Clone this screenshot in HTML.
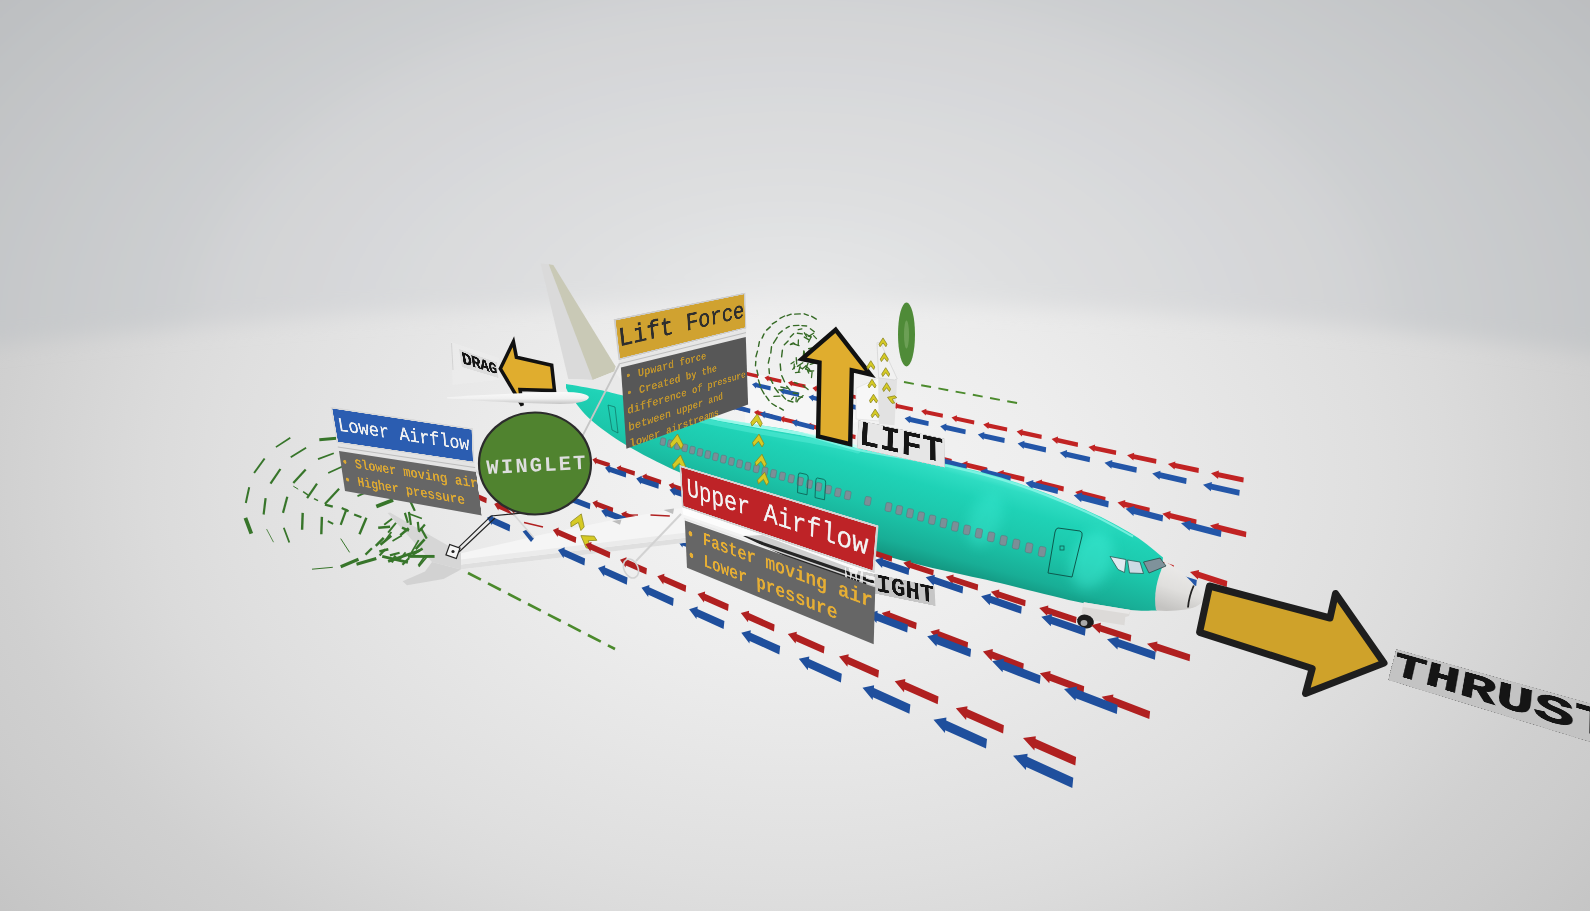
<!DOCTYPE html>
<html><head><meta charset="utf-8"><title>Airflow</title>
<style>
html,body{margin:0;padding:0;background:#dcdcdc}
#s{position:relative;width:1590px;height:911px;overflow:hidden}
.L{position:absolute;left:0;top:0}
.p{position:absolute;left:0;top:0;transform-origin:0 0;box-sizing:border-box;white-space:nowrap;font-family:"Liberation Mono",monospace;text-align:center}
.title{display:block;font-weight:normal;transform:scaleY(1.14);transform-origin:50% 52%}
.big{display:block;font-weight:bold}
.body{font-weight:bold;text-align:left;transform:scaleY(1.16);transform-origin:0 0}
</style></head><body><div id="s">
<svg class="L" width="1590" height="911" viewBox="0 0 1590 911"><defs>
<radialGradient id="bg" gradientUnits="userSpaceOnUse" cx="800" cy="480" r="1300" gradientTransform="translate(800 480) scale(1 0.692) translate(-800 -480)">
<stop offset="0" stop-color="#f4f4f4"/><stop offset="0.1" stop-color="#f1f1f1"/><stop offset="0.2" stop-color="#ededed"/><stop offset="0.27" stop-color="#e9e9e9"/><stop offset="0.444" stop-color="#dfdfdf"/><stop offset="0.5" stop-color="#dbdbdb"/><stop offset="0.62" stop-color="#d0d0d0"/><stop offset="0.685" stop-color="#cccccc"/><stop offset="0.777" stop-color="#c5c5c5"/><stop offset="1" stop-color="#b9b9b9"/></radialGradient>
<radialGradient id="sky" gradientUnits="userSpaceOnUse" cx="790" cy="335" r="1040" gradientTransform="translate(790 335) scale(1 0.5865) translate(-790 -335)">
<stop offset="0" stop-color="#eeeeef"/><stop offset="0.124" stop-color="#e3e4e5"/><stop offset="0.212" stop-color="#dfe0e1"/><stop offset="0.4" stop-color="#d8d9db"/><stop offset="0.549" stop-color="#d2d3d5"/><stop offset="0.596" stop-color="#cdcfd1"/><stop offset="0.75" stop-color="#c6c8ca"/><stop offset="0.93" stop-color="#bdbfc1"/><stop offset="1" stop-color="#babcbe"/></radialGradient>
<filter id="blur20" x="-10%" y="-10%" width="120%" height="130%"><feGaussianBlur stdDeviation="10"/></filter>
</defs>
<rect width="1590" height="911" fill="url(#bg)"/>
<path d="M-100,-100 L1690,-100 L1690,368  C1670.0,365.0 1635.0,357.7 1570.0,350.0 C1505.0,342.3 1395.0,329.4 1300.0,322.0 C1205.0,314.6 1086.7,308.9 1000.0,305.5 C913.3,302.1 880.0,300.4 780.0,301.5 C680.0,302.6 513.3,306.4 400.0,312.0 C286.7,317.6 183.3,327.7 100.0,335.0 C16.7,342.3 -66.7,352.5 -100.0,356.0 Z" fill="url(#sky)" filter="url(#blur20)"/>
</svg>
<svg class="L" width="1590" height="911" viewBox="0 0 1590 911"><polygon points="745.0,372.0 815.0,385.0 862.0,396.0 862.0,420.0 815.0,437.0 745.0,422.0" fill="#f6f6f6" />
<polygon points="1211.0,473.2 1218.9,470.6 1218.7,472.3 1243.8,477.6 1243.3,482.6 1218.2,477.2 1218.1,478.9" fill="#c12323" />
<polygon points="1167.9,463.9 1175.4,461.4 1175.2,463.0 1198.9,468.1 1198.5,472.9 1174.8,467.9 1174.6,469.5" fill="#c12323" />
<polygon points="1127.1,455.2 1134.2,452.7 1134.0,454.3 1156.5,459.1 1156.0,463.8 1133.6,459.0 1133.4,460.6" fill="#c12323" />
<polygon points="1088.4,446.9 1095.1,444.5 1095.0,446.0 1116.3,450.5 1115.8,455.1 1094.5,450.6 1094.4,452.1" fill="#c12323" />
<polygon points="1051.6,439.0 1058.0,436.6 1057.9,438.1 1078.1,442.4 1077.7,446.9 1057.4,442.6 1057.3,444.1" fill="#c12323" />
<polygon points="1016.6,431.5 1022.7,429.1 1022.6,430.6 1041.8,434.7 1041.4,439.1 1022.1,435.0 1022.0,436.4" fill="#c12323" />
<polygon points="983.2,424.4 989.1,422.0 988.9,423.5 1007.3,427.4 1006.9,431.6 988.5,427.7 988.4,429.1" fill="#c12323" />
<polygon points="951.5,417.6 957.0,415.3 956.9,416.7 974.4,420.4 974.0,424.6 956.5,420.8 956.3,422.2" fill="#c12323" />
<polygon points="921.1,411.1 926.4,408.8 926.3,410.2 943.0,413.7 942.6,417.8 925.9,414.2 925.8,415.6" fill="#c12323" />
<polygon points="892.1,404.9 897.2,402.6 897.1,403.9 913.1,407.4 912.7,411.3 896.7,407.9 896.6,409.2" fill="#c12323" />
<polygon points="864.4,399.0 869.3,396.7 869.1,398.0 884.4,401.3 884.0,405.2 868.8,401.9 868.6,403.2" fill="#c12323" />
<polygon points="837.8,393.3 842.5,391.1 842.4,392.3 857.0,395.5 856.6,399.3 842.0,396.1 841.9,397.4" fill="#c12323" />
<polygon points="812.4,387.9 816.9,385.6 816.7,386.9 830.8,389.9 830.4,393.6 816.4,390.6 816.3,391.9" fill="#c12323" />
<polygon points="788.0,382.6 792.3,380.4 792.2,381.7 805.6,384.5 805.3,388.2 791.8,385.3 791.7,386.5" fill="#c12323" />
<polygon points="764.5,377.6 768.7,375.5 768.6,376.6 781.5,379.4 781.1,383.0 768.2,380.2 768.1,381.4" fill="#c12323" />
<polygon points="742.0,372.8 746.0,370.7 745.9,371.8 758.3,374.5 757.9,378.0 745.5,375.3 745.4,376.5" fill="#c12323" />
<polygon points="1203.0,484.8 1211.9,482.0 1211.7,483.7 1239.8,490.0 1239.2,495.8 1211.1,489.6 1210.9,491.3" fill="#2356a8" />
<polygon points="1152.2,473.4 1160.5,470.7 1160.3,472.3 1186.7,478.2 1186.1,483.9 1159.8,478.0 1159.6,479.7" fill="#2356a8" />
<polygon points="1104.5,462.8 1112.3,460.1 1112.2,461.7 1136.9,467.2 1136.3,472.7 1111.6,467.2 1111.5,468.8" fill="#2356a8" />
<polygon points="1059.7,452.8 1067.1,450.1 1066.9,451.7 1090.2,456.9 1089.6,462.2 1066.4,457.0 1066.2,458.6" fill="#2356a8" />
<polygon points="1017.6,443.4 1024.5,440.8 1024.3,442.3 1046.2,447.2 1045.7,452.4 1023.8,447.5 1023.7,449.0" fill="#2356a8" />
<polygon points="977.8,434.6 984.3,431.9 984.2,433.4 1004.8,438.0 1004.3,443.1 983.7,438.5 983.5,439.9" fill="#2356a8" />
<polygon points="940.2,426.2 946.4,423.6 946.3,425.0 965.8,429.4 965.3,434.3 945.8,429.9 945.6,431.4" fill="#2356a8" />
<polygon points="904.6,418.2 910.5,415.7 910.4,417.1 928.8,421.2 928.3,426.0 909.9,421.9 909.7,423.3" fill="#2356a8" />
<polygon points="870.9,410.7 876.5,408.2 876.4,409.6 893.9,413.5 893.4,418.1 875.9,414.2 875.8,415.6" fill="#2356a8" />
<polygon points="838.9,403.6 844.2,401.1 844.1,402.4 860.7,406.1 860.2,410.7 843.6,407.0 843.5,408.3" fill="#2356a8" />
<polygon points="808.5,396.8 813.6,394.4 813.4,395.7 829.2,399.2 828.8,403.6 813.0,400.1 812.9,401.4" fill="#2356a8" />
<polygon points="779.6,390.4 784.4,388.0 784.3,389.2 799.3,392.6 798.9,396.9 783.8,393.5 783.7,394.8" fill="#2356a8" />
<polygon points="752.0,384.2 756.6,381.9 756.5,383.1 770.8,386.3 770.4,390.5 756.1,387.3 755.9,388.5" fill="#2356a8" />
<polygon points="1210.0,525.5 1218.8,523.0 1218.6,524.8 1246.4,531.8 1245.9,537.3 1218.0,530.4 1217.9,532.2" fill="#c12323" />
<polygon points="1162.3,513.7 1170.6,511.1 1170.4,512.9 1196.6,519.4 1196.1,524.8 1169.9,518.3 1169.7,520.1" fill="#c12323" />
<polygon points="1117.5,502.5 1125.3,499.9 1125.1,501.7 1149.8,507.8 1149.3,513.1 1124.6,506.9 1124.4,508.7" fill="#c12323" />
<polygon points="1075.1,491.9 1082.5,489.4 1082.3,491.1 1105.6,496.9 1105.1,502.0 1081.8,496.2 1081.6,497.9" fill="#c12323" />
<polygon points="1035.1,482.0 1042.1,479.5 1041.9,481.1 1063.9,486.6 1063.4,491.6 1041.4,486.1 1041.2,487.7" fill="#c12323" />
<polygon points="997.2,472.5 1003.8,470.0 1003.6,471.7 1024.5,476.8 1024.0,481.7 1003.2,476.5 1003.0,478.1" fill="#c12323" />
<polygon points="961.3,463.6 967.5,461.1 967.4,462.7 987.2,467.6 986.7,472.3 966.9,467.4 966.8,468.9" fill="#c12323" />
<polygon points="927.1,455.1 933.1,452.6 933.0,454.2 951.8,458.9 951.3,463.4 932.5,458.8 932.4,460.3" fill="#c12323" />
<polygon points="894.7,447.0 900.4,444.6 900.3,446.1 918.1,450.5 917.7,455.0 899.8,450.5 899.7,452.0" fill="#c12323" />
<polygon points="863.9,439.3 869.3,436.9 869.2,438.4 886.1,442.6 885.7,447.0 868.7,442.7 868.6,444.2" fill="#c12323" />
<polygon points="834.5,432.0 839.7,429.6 839.5,431.1 855.7,435.1 855.3,439.3 839.1,435.3 838.9,436.7" fill="#c12323" />
<polygon points="806.4,425.0 811.4,422.7 811.2,424.1 826.7,427.9 826.3,432.1 810.8,428.2 810.7,429.6" fill="#c12323" />
<polygon points="779.6,418.3 784.4,416.0 784.2,417.4 799.0,421.1 798.6,425.1 783.8,421.4 783.7,422.8" fill="#c12323" />
<polygon points="754.0,411.9 758.6,409.7 758.4,411.0 772.5,414.5 772.1,418.5 758.0,415.0 757.9,416.3" fill="#c12323" />
<polygon points="729.5,405.8 733.9,403.6 733.7,404.9 747.2,408.3 746.8,412.1 733.3,408.8 733.2,410.1" fill="#c12323" />
<polygon points="1181.0,523.2 1190.8,520.5 1190.6,522.4 1221.5,530.4 1220.8,536.9 1189.9,528.9 1189.7,530.8" fill="#2356a8" />
<polygon points="1125.5,508.7 1134.5,506.0 1134.4,507.8 1163.1,515.3 1162.5,521.6 1133.7,514.1 1133.5,516.0" fill="#2356a8" />
<polygon points="1073.7,495.3 1082.2,492.5 1082.0,494.3 1108.8,501.3 1108.2,507.4 1081.4,500.4 1081.2,502.2" fill="#2356a8" />
<polygon points="1025.4,482.7 1033.4,480.0 1033.2,481.7 1058.2,488.2 1057.6,494.1 1032.6,487.6 1032.4,489.3" fill="#2356a8" />
<polygon points="980.2,470.9 987.6,468.2 987.5,469.9 1010.9,476.0 1010.3,481.7 986.9,475.6 986.7,477.2" fill="#2356a8" />
<polygon points="937.8,459.9 944.8,457.2 944.6,458.8 966.6,464.5 966.1,470.1 944.1,464.3 943.9,465.9" fill="#2356a8" />
<polygon points="897.9,449.5 904.5,446.9 904.4,448.4 925.0,453.8 924.5,459.1 903.9,453.8 903.7,455.3" fill="#2356a8" />
<polygon points="860.4,439.7 866.7,437.1 866.5,438.6 886.0,443.7 885.4,448.9 866.0,443.8 865.8,445.3" fill="#2356a8" />
<polygon points="825.0,430.5 830.9,427.9 830.8,429.4 849.1,434.2 848.6,439.2 830.3,434.4 830.1,435.9" fill="#2356a8" />
<polygon points="791.6,421.8 797.2,419.3 797.0,420.7 814.4,425.2 813.9,430.1 796.5,425.6 796.4,427.0" fill="#2356a8" />
<polygon points="760.0,413.5 765.3,411.1 765.1,412.4 781.5,416.7 781.1,421.5 764.6,417.2 764.5,418.6" fill="#2356a8" />
<polygon points="730.0,405.7 735.0,403.3 734.9,404.6 750.4,408.7 750.0,413.3 734.4,409.3 734.3,410.6" fill="#2356a8" />
<polygon points="1190.0,572.0 1199.0,569.9 1198.8,571.8 1227.3,581.0 1226.7,587.0 1198.2,577.8 1198.0,579.6" fill="#c12323" />
<polygon points="1138.0,557.0 1146.6,554.9 1146.5,556.7 1173.8,565.3 1173.2,571.1 1145.9,562.4 1145.7,564.2" fill="#c12323" />
<polygon points="1158.0,571.0 1167.4,568.7 1167.2,570.7 1196.8,579.9 1196.2,586.1 1166.5,576.9 1166.4,578.8" fill="#2356a8" />
<line x1="904" y1="382" x2="1019" y2="403.4" stroke="#4b8a2c" stroke-width="1.9" stroke-dasharray="10 7.5"/>
<g stroke="#356a25" stroke-width="1.4" stroke-linecap="round"><line x1="783.4" y1="410.1" x2="779.7" y2="407.9"/><line x1="776.3" y1="406.3" x2="771.8" y2="403.5"/><line x1="769.0" y1="400.5" x2="765.9" y2="396.2"/><line x1="764.1" y1="393.9" x2="761.1" y2="388.5"/><line x1="760.2" y1="385.8" x2="758.4" y2="379.9"/><line x1="758.0" y1="375.2" x2="757.0" y2="370.3"/><line x1="755.5" y1="365.7" x2="755.8" y2="361.4"/><line x1="755.9" y1="356.7" x2="757.5" y2="351.1"/><line x1="758.5" y1="346.4" x2="759.4" y2="341.7"/><line x1="762.1" y1="338.1" x2="764.0" y2="333.9"/><line x1="766.6" y1="330.1" x2="770.3" y2="326.9"/><line x1="772.3" y1="323.9" x2="776.5" y2="321.4"/><line x1="780.0" y1="318.4" x2="784.6" y2="316.0"/><line x1="787.2" y1="315.7" x2="791.2" y2="314.2"/><line x1="794.7" y1="314.1" x2="800.3" y2="313.9"/><line x1="804.2" y1="313.8" x2="808.3" y2="315.3"/><line x1="811.7" y1="316.3" x2="816.3" y2="319.1"/></g>
<g stroke="#356a25" stroke-width="1.4" stroke-linecap="round"><line x1="792.9" y1="402.0" x2="787.9" y2="400.5"/><line x1="785.5" y1="399.1" x2="781.9" y2="395.0"/><line x1="778.3" y1="392.5" x2="774.6" y2="387.8"/><line x1="772.8" y1="383.3" x2="770.5" y2="379.0"/><line x1="769.4" y1="373.5" x2="769.0" y2="368.7"/><line x1="768.3" y1="363.1" x2="769.5" y2="357.8"/><line x1="770.8" y1="353.0" x2="771.5" y2="346.8"/><line x1="773.5" y1="343.2" x2="777.2" y2="337.3"/><line x1="778.5" y1="334.0" x2="782.3" y2="330.9"/><line x1="786.1" y1="328.2" x2="789.3" y2="326.4"/><line x1="793.5" y1="325.6" x2="798.9" y2="325.4"/><line x1="801.9" y1="325.6" x2="806.6" y2="326.0"/><line x1="810.4" y1="328.8" x2="814.3" y2="331.7"/></g>
<g stroke="#356a25" stroke-width="1.4" stroke-linecap="round"><line x1="797.8" y1="393.5" x2="793.2" y2="393.0"/><line x1="790.0" y1="390.1" x2="786.7" y2="386.3"/><line x1="784.5" y1="381.8" x2="781.8" y2="375.7"/><line x1="780.8" y1="370.4" x2="780.2" y2="363.9"/><line x1="781.6" y1="356.8" x2="782.4" y2="350.2"/><line x1="784.3" y1="344.7" x2="788.1" y2="340.9"/><line x1="790.3" y1="336.9" x2="793.6" y2="333.8"/><line x1="797.4" y1="333.3" x2="802.3" y2="333.9"/><line x1="804.3" y1="337.1" x2="808.6" y2="339.7"/></g>
<g stroke="#356a25" stroke-width="1.3" stroke-linecap="round"><line x1="803.8" y1="350.9" x2="803.2" y2="357.3"/><line x1="813.6" y1="335.6" x2="816.5" y2="338.6"/><line x1="812.1" y1="371.8" x2="811.5" y2="377.5"/><line x1="802.8" y1="362.8" x2="797.4" y2="366.4"/><line x1="813.6" y1="333.3" x2="808.8" y2="336.4"/><line x1="807.5" y1="370.5" x2="808.7" y2="373.1"/><line x1="813.3" y1="354.4" x2="817.0" y2="358.3"/><line x1="815.0" y1="347.3" x2="808.6" y2="348.6"/><line x1="814.1" y1="347.6" x2="816.9" y2="349.9"/><line x1="808.1" y1="363.1" x2="805.7" y2="368.9"/><line x1="811.2" y1="336.8" x2="808.5" y2="342.0"/><line x1="815.8" y1="362.7" x2="810.3" y2="364.3"/><line x1="806.0" y1="334.0" x2="810.9" y2="337.1"/><line x1="799.8" y1="372.2" x2="795.5" y2="372.6"/><line x1="794.9" y1="366.7" x2="792.7" y2="369.3"/><line x1="809.8" y1="359.2" x2="804.2" y2="361.0"/><line x1="813.7" y1="370.8" x2="808.5" y2="371.1"/><line x1="799.9" y1="367.6" x2="802.5" y2="368.7"/><line x1="817.1" y1="348.2" x2="816.6" y2="354.5"/><line x1="794.0" y1="361.8" x2="791.0" y2="363.7"/><line x1="805.9" y1="366.1" x2="809.6" y2="369.5"/><line x1="805.5" y1="368.8" x2="811.2" y2="371.3"/><line x1="800.2" y1="366.0" x2="798.6" y2="372.0"/><line x1="794.2" y1="363.9" x2="794.2" y2="368.7"/><line x1="804.1" y1="351.5" x2="804.8" y2="354.9"/><line x1="818.5" y1="352.6" x2="822.4" y2="354.9"/><line x1="804.4" y1="332.8" x2="806.8" y2="336.9"/><line x1="794.3" y1="344.1" x2="799.0" y2="345.7"/><line x1="806.1" y1="365.7" x2="802.5" y2="368.8"/><line x1="794.7" y1="343.4" x2="790.4" y2="344.6"/><line x1="798.4" y1="340.0" x2="798.2" y2="345.4"/><line x1="796.2" y1="357.6" x2="796.7" y2="364.0"/><line x1="801.9" y1="328.9" x2="798.2" y2="329.6"/><line x1="793.3" y1="342.8" x2="790.5" y2="344.4"/></g>
<g stroke="#356a25" stroke-width="1.3" stroke-linecap="round"><line x1="798.6" y1="396.6" x2="802.2" y2="397.4"/><line x1="803.2" y1="395.6" x2="798.4" y2="399.5"/><line x1="798.6" y1="399.0" x2="797.0" y2="401.9"/><line x1="803.1" y1="385.4" x2="808.1" y2="389.5"/><line x1="779.9" y1="396.2" x2="774.0" y2="396.4"/><line x1="796.2" y1="397.6" x2="796.0" y2="401.6"/><line x1="793.4" y1="397.3" x2="791.6" y2="399.5"/><line x1="778.7" y1="389.8" x2="782.8" y2="390.0"/><line x1="780.8" y1="387.0" x2="787.2" y2="388.3"/><line x1="794.2" y1="382.4" x2="797.8" y2="383.6"/></g>
<polygon points="856.0,388.3 878.7,377.8 879.0,421.0 856.0,419.0" fill="#f7f7f7" stroke="#e2e2e2" stroke-width="0.8"/>
<polygon points="878.7,377.8 897.2,378.7 894.5,425.2 879.0,424.0" fill="#e2e2e2" />
<polygon points="877.0,342.7 880.5,342.7 897.2,378.7 894.5,380.0 878.7,377.8" fill="#f1f1f1" stroke="#d6d6d6" stroke-width="0.8"/>
<ellipse cx="906.5" cy="334.5" rx="8.5" ry="32" fill="#4f8b38"/><ellipse cx="906.5" cy="334.5" rx="2.5" ry="14" fill="#79a862" opacity="0.7"/></svg>
<svg class="L" width="1590" height="911" viewBox="0 0 1590 911"><defs>
<linearGradient id="fus" gradientUnits="userSpaceOnUse" x1="905" y1="452" x2="877" y2="553">
<stop offset="0" stop-color="#4fe8d2"/><stop offset="0.08" stop-color="#2edcc2"/><stop offset="0.25" stop-color="#1fd2b6"/><stop offset="0.55" stop-color="#1cc6aa"/><stop offset="0.85" stop-color="#18ae96"/><stop offset="1" stop-color="#139680"/></linearGradient>
<filter id="b6" x="-50%" y="-50%" width="200%" height="200%"><feGaussianBlur stdDeviation="6"/></filter>
<linearGradient id="nose" gradientUnits="userSpaceOnUse" x1="1185" y1="565" x2="1170" y2="610">
<stop offset="0" stop-color="#ecebea"/><stop offset="0.55" stop-color="#e0dfdd"/><stop offset="1" stop-color="#c4c3c1"/></linearGradient>
<linearGradient id="wing" gradientUnits="userSpaceOnUse" x1="560" y1="525" x2="570" y2="562">
<stop offset="0" stop-color="#f8f8f8"/><stop offset="0.6" stop-color="#f0f0f0"/><stop offset="1" stop-color="#c9c9c9"/></linearGradient>
</defs>
<polygon points="540.6,263.4 548.7,264.3 594.0,380.0 568.3,379.0" fill="#dadada" />
<polygon points="548.7,264.3 553.3,265.0 615.6,366.4 614.2,371.4 592.8,380.0" fill="#c9c9b6" />
<polygon points="592.8,380.0 614.2,371.4 622.0,381.0 622.0,396.0 600.0,391.0 572.0,385.0 568.3,379.0" fill="#e9e9e9" />
<polygon points="552.0,383.0 568.0,381.0 572.0,388.0 556.0,389.0" fill="#ececec" />
<path d="M566.0,384.0 C571.7,385.0 590.8,388.2 600.0,390.0 C609.2,391.8 601.3,390.3 621.0,395.0 C640.7,399.7 688.2,411.8 718.0,418.0 C747.8,424.2 776.3,426.9 800.0,432.0 C823.7,437.1 835.2,443.1 860.0,448.5 C884.8,453.9 922.7,458.9 949.0,464.6 C975.3,470.4 994.9,475.3 1018.0,483.0 C1041.1,490.7 1068.2,502.0 1087.5,510.7 C1106.8,519.4 1121.0,527.2 1133.6,535.0 C1146.2,542.8 1158.1,553.8 1163.0,557.5 L1157.0,610.5  C1152.5,610.4 1142.3,611.2 1130.0,610.0 C1117.7,608.8 1104.7,607.5 1083.0,603.0 C1061.3,598.5 1034.3,591.3 1000.0,583.0 C965.7,574.7 917.0,566.0 877.0,553.0 C837.0,540.0 792.8,518.4 760.0,505.0 C727.2,491.6 702.3,482.6 680.0,472.6 C657.7,462.6 640.8,453.8 626.0,445.0 C611.2,436.2 600.0,427.8 591.0,420.0 C582.0,412.2 576.2,403.3 572.0,398.0 C567.8,392.7 567.0,389.7 566.0,388.0 Z" fill="url(#fus)"/>
<path d="M705,416.5 Q760,427 800,433.5 T858,447.5" stroke="#c8fff4" stroke-width="3" fill="none" opacity="0.85" stroke-linecap="round"/><path d="M700,420 Q760,432.5 800,439 T858,451" stroke="#5ff0dc" stroke-width="5" fill="none" opacity="0.45" stroke-linecap="round"/>
<path d="M718.0,418.0 C731.7,420.3 776.3,426.9 800.0,432.0 C823.7,437.1 835.2,443.1 860.0,448.5 C884.8,453.9 922.7,458.9 949.0,464.6 C975.3,470.4 994.9,475.3 1018.0,483.0 C1041.1,490.7 1068.2,502.0 1087.5,510.7 C1106.8,519.4 1125.9,531.0 1133.6,535.0" stroke="#8ff7e8" stroke-width="2.2" fill="none" opacity="0.75" transform="translate(-0.5 1.6)"/>
<ellipse cx="1092" cy="560" rx="20" ry="30" fill="#4dfbe6" opacity="0.35" filter="url(#b6)" transform="rotate(20 1092 560)"/><ellipse cx="985" cy="520" rx="16" ry="28" fill="#4dfbe6" opacity="0.25" filter="url(#b6)" transform="rotate(20 985 520)"/>
<path d="M1165,561.5 Q1190,575 1203,597.5 Q1203.5,606 1186,609.5 Q1170,611.8 1156,610.5 Q1152,588 1165,561.5 Z" fill="url(#nose)"/>
<path d="M1193.8,585.5 Q1189,596 1188,607.5" stroke="#222" stroke-width="1.8" fill="none"/>
<polygon points="1110.0,556.5 1126.0,559.5 1124.5,572.5 1118.0,569.5" fill="#dfeaf0" stroke="#2a5a55" stroke-width="0.8"/>
<polygon points="1127.5,560.0 1140.0,562.0 1143.5,573.5 1129.5,573.0" fill="#cddbe4" stroke="#2a5a55" stroke-width="0.8"/>
<polygon points="1143.5,562.0 1160.0,558.0 1166.0,566.0 1149.0,573.0" fill="#7f929b" stroke="#2a4a48" stroke-width="0.8"/>
<path d="M1058,528 L1080,531 Q1083,532 1082,536 L1072,577 L1048,573 L1055,532 Q1056,528 1058,528 Z" fill="none" stroke="#0d5a4e" stroke-width="1"/><rect x="1060" y="546" width="4" height="4" fill="none" stroke="#0d5a4e" stroke-width="0.8"/>
<rect x="660.5" y="438.0" width="5.0" height="7.3" rx="1.3" fill="#7b8f97" stroke="#5d7178" stroke-width="0.5" transform="rotate(10 663.0 441.6)"/><rect x="667.7" y="440.0" width="5.0" height="7.3" rx="1.3" fill="#7b8f97" stroke="#5d7178" stroke-width="0.5" transform="rotate(10 670.2 443.7)"/><rect x="674.9" y="442.1" width="5.1" height="7.4" rx="1.3" fill="#7b8f97" stroke="#5d7178" stroke-width="0.5" transform="rotate(10 677.5 445.8)"/><rect x="682.3" y="444.2" width="5.1" height="7.4" rx="1.3" fill="#7b8f97" stroke="#5d7178" stroke-width="0.5" transform="rotate(10 684.9 447.9)"/><rect x="689.8" y="446.4" width="5.1" height="7.5" rx="1.3" fill="#7b8f97" stroke="#5d7178" stroke-width="0.5" transform="rotate(10 692.4 450.1)"/><rect x="697.4" y="448.6" width="5.2" height="7.5" rx="1.3" fill="#7b8f97" stroke="#5d7178" stroke-width="0.5" transform="rotate(10 700.0 452.3)"/><rect x="705.1" y="450.8" width="5.2" height="7.6" rx="1.3" fill="#7b8f97" stroke="#5d7178" stroke-width="0.5" transform="rotate(10 707.7 454.6)"/><rect x="712.9" y="453.0" width="5.2" height="7.6" rx="1.4" fill="#7b8f97" stroke="#5d7178" stroke-width="0.5" transform="rotate(10 715.5 456.8)"/><rect x="720.8" y="455.3" width="5.3" height="7.7" rx="1.4" fill="#7b8f97" stroke="#5d7178" stroke-width="0.5" transform="rotate(10 723.4 459.1)"/><rect x="728.8" y="457.6" width="5.3" height="7.7" rx="1.4" fill="#7b8f97" stroke="#5d7178" stroke-width="0.5" transform="rotate(10 731.4 461.5)"/><rect x="736.9" y="459.9" width="5.4" height="7.8" rx="1.4" fill="#7b8f97" stroke="#5d7178" stroke-width="0.5" transform="rotate(10 739.6 463.8)"/><rect x="745.2" y="462.3" width="5.4" height="7.8" rx="1.4" fill="#7b8f97" stroke="#5d7178" stroke-width="0.5" transform="rotate(10 747.9 466.2)"/><rect x="753.6" y="464.7" width="5.4" height="7.9" rx="1.4" fill="#7b8f97" stroke="#5d7178" stroke-width="0.5" transform="rotate(10 756.3 468.7)"/><rect x="762.1" y="467.2" width="5.5" height="8.0" rx="1.4" fill="#7b8f97" stroke="#5d7178" stroke-width="0.5" transform="rotate(10 764.8 471.2)"/><rect x="770.7" y="469.7" width="5.5" height="8.0" rx="1.4" fill="#7b8f97" stroke="#5d7178" stroke-width="0.5" transform="rotate(10 773.5 473.7)"/><rect x="779.5" y="472.2" width="5.6" height="8.1" rx="1.4" fill="#7b8f97" stroke="#5d7178" stroke-width="0.5" transform="rotate(10 782.3 476.2)"/><rect x="788.4" y="474.7" width="5.6" height="8.1" rx="1.4" fill="#7b8f97" stroke="#5d7178" stroke-width="0.5" transform="rotate(10 791.2 478.8)"/><rect x="797.4" y="477.3" width="5.7" height="8.2" rx="1.5" fill="#7b8f97" stroke="#5d7178" stroke-width="0.5" transform="rotate(10 800.3 481.4)"/><rect x="806.6" y="480.0" width="5.7" height="8.3" rx="1.5" fill="#7b8f97" stroke="#5d7178" stroke-width="0.5" transform="rotate(10 809.5 484.1)"/><rect x="815.9" y="482.7" width="5.7" height="8.3" rx="1.5" fill="#7b8f97" stroke="#5d7178" stroke-width="0.5" transform="rotate(10 818.8 486.8)"/><rect x="825.4" y="485.4" width="5.8" height="8.4" rx="1.5" fill="#7b8f97" stroke="#5d7178" stroke-width="0.5" transform="rotate(10 828.3 489.6)"/><rect x="835.0" y="488.2" width="5.8" height="8.5" rx="1.5" fill="#7b8f97" stroke="#5d7178" stroke-width="0.5" transform="rotate(10 837.9 492.4)"/><rect x="844.8" y="491.0" width="5.9" height="8.5" rx="1.5" fill="#7b8f97" stroke="#5d7178" stroke-width="0.5" transform="rotate(10 847.7 495.2)"/><rect x="864.8" y="496.7" width="6.0" height="8.7" rx="1.5" fill="#7b8f97" stroke="#5d7178" stroke-width="0.5" transform="rotate(10 867.8 501.1)"/><rect x="885.5" y="502.7" width="6.1" height="8.8" rx="1.6" fill="#7b8f97" stroke="#5d7178" stroke-width="0.5" transform="rotate(10 888.6 507.1)"/><rect x="896.1" y="505.7" width="6.1" height="8.9" rx="1.6" fill="#7b8f97" stroke="#5d7178" stroke-width="0.5" transform="rotate(10 899.2 510.2)"/><rect x="906.9" y="508.8" width="6.2" height="9.0" rx="1.6" fill="#7b8f97" stroke="#5d7178" stroke-width="0.5" transform="rotate(10 910.0 513.3)"/><rect x="917.9" y="512.0" width="6.2" height="9.0" rx="1.6" fill="#7b8f97" stroke="#5d7178" stroke-width="0.5" transform="rotate(10 921.0 516.5)"/><rect x="929.0" y="515.2" width="6.3" height="9.1" rx="1.6" fill="#7b8f97" stroke="#5d7178" stroke-width="0.5" transform="rotate(10 932.2 519.7)"/><rect x="940.4" y="518.5" width="6.3" height="9.2" rx="1.6" fill="#7b8f97" stroke="#5d7178" stroke-width="0.5" transform="rotate(10 943.6 523.1)"/><rect x="951.9" y="521.8" width="6.4" height="9.3" rx="1.6" fill="#7b8f97" stroke="#5d7178" stroke-width="0.5" transform="rotate(10 955.1 526.4)"/><rect x="963.7" y="525.2" width="6.4" height="9.4" rx="1.7" fill="#7b8f97" stroke="#5d7178" stroke-width="0.5" transform="rotate(10 966.9 529.8)"/><rect x="975.6" y="528.6" width="6.5" height="9.4" rx="1.7" fill="#7b8f97" stroke="#5d7178" stroke-width="0.5" transform="rotate(10 978.9 533.3)"/><rect x="987.8" y="532.1" width="6.6" height="9.5" rx="1.7" fill="#7b8f97" stroke="#5d7178" stroke-width="0.5" transform="rotate(10 991.1 536.9)"/><rect x="1000.2" y="535.7" width="6.6" height="9.6" rx="1.7" fill="#7b8f97" stroke="#5d7178" stroke-width="0.5" transform="rotate(10 1003.5 540.5)"/><rect x="1012.8" y="539.3" width="6.7" height="9.7" rx="1.7" fill="#7b8f97" stroke="#5d7178" stroke-width="0.5" transform="rotate(10 1016.2 544.1)"/><rect x="1025.7" y="543.0" width="6.7" height="9.8" rx="1.7" fill="#7b8f97" stroke="#5d7178" stroke-width="0.5" transform="rotate(10 1029.0 547.9)"/><rect x="1038.7" y="546.7" width="6.8" height="9.9" rx="1.8" fill="#7b8f97" stroke="#5d7178" stroke-width="0.5" transform="rotate(10 1042.1 551.7)"/>
<path d="M800.0,473.0 l6,1.3 q2.6,0.8 2.2,3.5 l-1.2,17 l-9.5,-2.2 l0.8,-17 q0.3,-3 1.7,-2.6 Z" fill="none" stroke="#0d5a4e" stroke-width="0.8"/>
<path d="M817.5,478.0 l6,1.3 q2.6,0.8 2.2,3.5 l-1.2,17 l-9.5,-2.2 l0.8,-17 q0.3,-3 1.7,-2.6 Z" fill="none" stroke="#0d5a4e" stroke-width="0.8"/>
<path d="M608,405 l7,2 l3,26 l-6,-3 Z" fill="none" stroke="#0d5a4e" stroke-width="0.7" opacity="0.8"/>
<polygon points="1083.8,602.3 1130.7,610.0 1129.0,616.0 1125.3,617.0 1124.5,625.3 1090.7,620.0 1081.5,613.0" fill="#dcdad8" />
<polygon points="1083.8,602.3 1130.7,610.0 1129.0,614.0 1083.0,607.0" fill="#e9e8e7" />
<ellipse cx="1085.5" cy="621.5" rx="8.5" ry="6.8" fill="#1c1c1c" transform="rotate(15 1085.5 621.5)"/><ellipse cx="1084" cy="623" rx="3.4" ry="3" fill="#a9a9a9"/></svg>
<svg class="L" width="1590" height="911" viewBox="0 0 1590 911"><polygon points="835.7,329.8 870.3,374.4 851.8,370.2 850.2,444.2 818.1,436.4 819.5,362.6 801.8,359.0" fill="#e0ad2e" stroke="#111" stroke-width="4.4" stroke-linejoin="miter"/></svg>
<div class="p " style="width:300px;height:100px;transform:matrix3d(0.22844868,0.034307957,0,-6.1645476e-05,-0.21817613,0.17572909,0,-0.00023710599,0,0,1,0,858.4,420,0,1);background:#e6e6e6;box-shadow:inset 0 0 0 2px #cfcfcf"><span class="big" style="font-size:122px;line-height:104px;color:#151515">LIFT</span></div>
<svg class="L" width="1590" height="911" viewBox="0 0 1590 911"><polygon points="1101.7,696.8 1113.4,694.6 1113.1,697.1 1150.1,711.2 1149.3,718.9 1112.4,704.8 1112.1,707.4" fill="#b02020" />
<polygon points="1039.8,673.2 1050.6,670.9 1050.3,673.4 1084.2,686.3 1083.5,693.6 1049.6,680.7 1049.3,683.2" fill="#b02020" />
<polygon points="982.9,651.5 992.8,649.1 992.6,651.5 1023.8,663.4 1023.1,670.4 991.9,658.5 991.6,660.9" fill="#b02020" />
<polygon points="930.4,631.4 939.5,629.1 939.3,631.3 968.1,642.3 967.4,649.1 938.6,638.1 938.4,640.4" fill="#b02020" />
<polygon points="881.7,612.9 890.2,610.5 890.0,612.6 916.7,622.8 916.0,629.3 889.3,619.2 889.1,621.3" fill="#b02020" />
<polygon points="836.5,595.6 844.4,593.2 844.2,595.3 869.0,604.8 868.4,611.1 843.6,601.6 843.4,603.7" fill="#b02020" />
<polygon points="794.4,579.6 801.8,577.1 801.6,579.2 824.7,588.0 824.1,594.1 801.0,585.2 800.8,587.3" fill="#b02020" />
<polygon points="755.1,564.6 762.1,562.2 761.9,564.1 783.4,572.3 782.9,578.2 761.3,570.0 761.1,572.0" fill="#b02020" />
<polygon points="718.4,550.6 724.9,548.1 724.7,550.0 744.9,557.7 744.3,563.4 724.1,555.7 724.0,557.6" fill="#b02020" />
<polygon points="683.9,537.4 690.1,535.0 689.9,536.8 708.8,544.1 708.3,549.6 689.3,542.4 689.1,544.2" fill="#b02020" />
<polygon points="651.6,525.1 657.3,522.7 657.2,524.5 675.0,531.2 674.4,536.6 656.6,529.8 656.5,531.6" fill="#b02020" />
<polygon points="621.1,513.5 626.6,511.1 626.4,512.8 643.1,519.2 642.6,524.4 625.9,518.0 625.7,519.7" fill="#b02020" />
<polygon points="592.4,502.5 597.5,500.1 597.4,501.8 613.2,507.8 612.7,512.9 596.9,506.8 596.7,508.5" fill="#b02020" />
<polygon points="1064.0,689.0 1077.0,686.6 1076.7,689.2 1117.7,705.0 1116.8,714.0 1075.8,698.2 1075.5,700.8" fill="#1f4f9d" />
<polygon points="992.2,661.3 1003.9,658.8 1003.7,661.3 1040.6,675.5 1039.8,684.1 1002.8,669.8 1002.6,672.3" fill="#1f4f9d" />
<polygon points="927.2,636.2 937.8,633.7 937.6,636.0 971.1,649.0 970.3,657.1 936.8,644.2 936.5,646.5" fill="#1f4f9d" />
<polygon points="868.0,613.5 877.7,610.8 877.5,613.1 908.0,624.8 907.2,632.6 876.7,620.8 876.5,623.1" fill="#1f4f9d" />
<polygon points="813.9,592.6 822.9,590.0 822.6,592.1 850.5,602.9 849.8,610.3 821.9,599.5 821.7,601.7" fill="#1f4f9d" />
<polygon points="764.4,573.5 772.6,570.8 772.4,572.9 798.0,582.8 797.3,589.9 771.6,580.0 771.4,582.1" fill="#1f4f9d" />
<polygon points="718.7,555.9 726.3,553.2 726.1,555.2 749.7,564.3 749.0,571.2 725.4,562.1 725.2,564.1" fill="#1f4f9d" />
<polygon points="676.5,539.7 683.6,537.0 683.4,538.9 705.2,547.3 704.5,553.9 682.7,545.5 682.5,547.4" fill="#1f4f9d" />
<polygon points="637.5,524.6 644.0,522.0 643.8,523.8 664.0,531.6 663.4,537.9 643.2,530.1 643.0,532.0" fill="#1f4f9d" />
<polygon points="601.2,510.7 607.3,508.0 607.1,509.8 625.9,517.0 625.3,523.1 606.5,515.9 606.3,517.7" fill="#1f4f9d" />
<polygon points="567.4,497.6 573.1,495.0 572.9,496.7 590.4,503.4 589.8,509.3 572.3,502.6 572.2,504.3" fill="#1f4f9d" /></svg>
<svg class="L" width="1590" height="911" viewBox="0 0 1590 911"><polygon points="458.0,554.0 540.0,535.0 613.0,520.0 670.0,510.0 700.0,505.0 700.0,541.0 620.0,550.5 540.0,560.0 460.0,569.5" fill="#f5f5f5" />
<polygon points="460.0,569.5 540.0,560.0 620.0,550.5 700.0,541.0 700.0,536.0 620.0,545.5 540.0,555.0 461.0,564.5" fill="#dfdfdf" />
<polygon points="461.0,564.5 540.0,555.0 620.0,545.5 700.0,536.0 700.0,531.0 620.0,540.5 540.0,550.0 461.0,559.5" fill="#ebebeb" />
<polygon points="612.0,521.0 621.5,519.6 620.0,524.7" fill="#bdbdbd" />
<polygon points="663.6,510.0 674.0,508.5 673.0,514.0" fill="#bdbdbd" />
<polygon points="387.5,513.0 390.0,512.6 461.0,553.0 461.0,569.5 432.0,562.0" fill="#d6d6d6" />
<polygon points="432.0,562.0 461.0,569.5 443.5,579.0 407.0,585.2 402.6,581.3 425.0,571.5" fill="#d2d2d2" />
<line x1="622.4" y1="515" x2="638" y2="515" stroke="#b02020" stroke-width="1.3"/><line x1="650.5" y1="515" x2="669.8" y2="516" stroke="#b02020" stroke-width="1.3"/>
<polygon points="677.5,434.0 683.2,445.0 681.1,449.1 676.8,442.3 671.3,448.2 670.0,443.9" fill="#d6ca24" stroke="#8c8620" stroke-width="0.8" stroke-linejoin="round"/>
<polygon points="680.5,455.0 685.6,466.4 683.3,470.3 679.4,463.3 673.6,468.9 672.5,464.5" fill="#d6ca24" stroke="#8c8620" stroke-width="0.8" stroke-linejoin="round"/>
<polygon points="757.3,413.9 762.2,423.4 760.4,426.8 756.7,421.1 752.0,426.1 750.8,422.4" fill="#d6ca24" stroke="#8c8620" stroke-width="0.8" stroke-linejoin="round"/>
<polygon points="759.0,434.1 763.9,443.6 762.1,447.0 758.4,441.3 753.7,446.3 752.5,442.6" fill="#d6ca24" stroke="#8c8620" stroke-width="0.8" stroke-linejoin="round"/>
<polygon points="762.0,454.2 766.4,463.9 764.4,467.2 761.0,461.3 756.0,466.1 755.1,462.3" fill="#d6ca24" stroke="#8c8620" stroke-width="0.8" stroke-linejoin="round"/>
<polygon points="764.7,472.2 768.7,482.1 766.6,485.3 763.4,479.3 758.4,483.9 757.5,480.1" fill="#d6ca24" stroke="#8c8620" stroke-width="0.8" stroke-linejoin="round"/>
<polygon points="581.3,513.9 584.2,526.9 580.9,530.5 578.3,522.4 571.0,526.9 570.8,522.0" fill="#d6ca24" stroke="#8c8620" stroke-width="0.8" stroke-linejoin="round"/>
<polygon points="580.9,535.6 594.2,536.2 596.8,540.3 588.3,540.7 590.8,548.9 586.1,547.8" fill="#d6ca24" stroke="#8c8620" stroke-width="0.8" stroke-linejoin="round"/>
<polygon points="883.0,337.9 887.0,344.2 885.9,346.7 883.0,342.9 880.1,346.7 879.0,344.2" fill="#d6ca24" stroke="#8c8620" stroke-width="0.8" stroke-linejoin="round"/>
<polygon points="884.3,352.8 888.3,359.1 887.2,361.6 884.3,357.8 881.4,361.6 880.3,359.1" fill="#d6ca24" stroke="#8c8620" stroke-width="0.8" stroke-linejoin="round"/>
<polygon points="885.7,367.7 889.7,374.0 888.6,376.5 885.7,372.7 882.8,376.5 881.7,374.0" fill="#d6ca24" stroke="#8c8620" stroke-width="0.8" stroke-linejoin="round"/>
<polygon points="886.6,382.7 890.6,389.0 889.5,391.5 886.6,387.7 883.7,391.5 882.6,389.0" fill="#d6ca24" stroke="#8c8620" stroke-width="0.8" stroke-linejoin="round"/>
<polygon points="872.0,379.2 876.0,385.5 874.9,388.0 872.0,384.2 869.1,388.0 868.0,385.5" fill="#d6ca24" stroke="#8c8620" stroke-width="0.8" stroke-linejoin="round"/>
<polygon points="873.5,394.2 877.5,400.5 876.4,403.0 873.5,399.2 870.6,403.0 869.5,400.5" fill="#d6ca24" stroke="#8c8620" stroke-width="0.8" stroke-linejoin="round"/>
<polygon points="875.2,409.0 879.2,415.3 878.1,417.8 875.2,414.0 872.3,417.8 871.2,415.3" fill="#d6ca24" stroke="#8c8620" stroke-width="0.8" stroke-linejoin="round"/>
<polygon points="870.8,360.7 874.8,367.0 873.7,369.5 870.8,365.7 867.9,369.5 866.8,367.0" fill="#d6ca24" stroke="#8c8620" stroke-width="0.8" stroke-linejoin="round"/>
<polygon points="887.5,397.3 894.7,395.8 896.8,397.6 892.2,399.1 894.7,403.1 892.0,403.3" fill="#d6ca24" stroke="#8c8620" stroke-width="0.8" stroke-linejoin="round"/></svg>
<svg class="L" width="1590" height="911" viewBox="0 0 1590 911"><polygon points="1147.0,643.7 1157.4,641.4 1157.2,643.6 1190.2,654.6 1189.6,661.3 1156.5,650.4 1156.3,652.6" fill="#b02020" />
<polygon points="1091.2,625.2 1100.9,622.8 1100.6,625.0 1131.3,635.1 1130.6,641.6 1100.0,631.5 1099.8,633.6" fill="#b02020" />
<polygon points="1039.2,607.9 1048.3,605.5 1048.1,607.6 1076.6,617.1 1075.9,623.3 1047.4,613.9 1047.2,616.0" fill="#b02020" />
<polygon points="990.9,591.8 999.3,589.4 999.1,591.5 1025.7,600.3 1025.1,606.3 998.5,597.5 998.3,599.5" fill="#b02020" />
<polygon points="945.7,576.8 953.6,574.4 953.4,576.4 978.2,584.6 977.6,590.5 952.8,582.2 952.6,584.2" fill="#b02020" />
<polygon points="903.3,562.8 910.7,560.3 910.6,562.2 933.8,570.0 933.2,575.6 910.0,567.9 909.8,569.8" fill="#b02020" />
<polygon points="863.6,549.6 870.6,547.2 870.4,549.0 892.2,556.2 891.7,561.7 869.8,554.5 869.7,556.3" fill="#b02020" />
<polygon points="826.3,537.2 832.8,534.8 832.7,536.5 853.2,543.4 852.7,548.7 832.1,541.9 831.9,543.7" fill="#b02020" />
<polygon points="791.1,525.5 797.3,523.1 797.1,524.8 816.5,531.2 815.9,536.4 796.6,530.0 796.4,531.7" fill="#b02020" />
<polygon points="757.9,514.5 763.8,512.1 763.6,513.8 781.9,519.8 781.3,524.8 763.1,518.8 762.9,520.5" fill="#b02020" />
<polygon points="726.5,504.0 732.1,501.7 731.9,503.3 749.2,509.0 748.7,513.9 731.4,508.2 731.3,509.8" fill="#b02020" />
<polygon points="696.8,494.2 702.1,491.8 702.0,493.4 718.3,498.8 717.8,503.6 701.5,498.2 701.3,499.8" fill="#b02020" />
<polygon points="668.7,484.8 673.7,482.5 673.5,484.0 689.0,489.2 688.6,493.8 673.1,488.7 672.9,490.2" fill="#b02020" />
<polygon points="642.0,475.9 646.7,473.6 646.6,475.1 661.3,480.0 660.8,484.6 646.1,479.7 646.0,481.2" fill="#b02020" />
<polygon points="616.6,467.5 621.1,465.2 621.0,466.7 635.0,471.3 634.5,475.7 620.5,471.1 620.4,472.6" fill="#b02020" />
<polygon points="592.4,459.5 596.7,457.2 596.6,458.7 609.9,463.1 609.5,467.4 596.2,463.0 596.0,464.4" fill="#b02020" />
<polygon points="1107.0,639.3 1118.7,636.7 1118.5,639.1 1155.7,651.8 1154.9,659.8 1117.7,647.1 1117.5,649.4" fill="#1f4f9d" />
<polygon points="1041.3,616.8 1052.0,614.2 1051.8,616.4 1085.7,628.0 1084.9,635.7 1051.0,624.1 1050.8,626.3" fill="#1f4f9d" />
<polygon points="981.1,596.2 990.9,593.6 990.7,595.7 1021.8,606.4 1021.1,613.7 990.0,603.1 989.8,605.2" fill="#1f4f9d" />
<polygon points="925.7,577.3 934.8,574.7 934.6,576.7 963.2,586.5 962.5,593.5 933.9,583.8 933.7,585.8" fill="#1f4f9d" />
<polygon points="874.7,559.9 883.1,557.2 882.9,559.2 909.3,568.2 908.6,575.0 882.3,566.0 882.1,567.9" fill="#1f4f9d" />
<polygon points="827.5,543.8 835.3,541.1 835.1,543.0 859.6,551.3 858.9,557.9 834.5,549.5 834.3,551.4" fill="#1f4f9d" />
<polygon points="783.7,528.8 791.0,526.1 790.8,528.0 813.5,535.7 812.9,542.0 790.2,534.2 790.0,536.1" fill="#1f4f9d" />
<polygon points="743.0,514.9 749.8,512.2 749.6,514.0 770.7,521.2 770.1,527.3 749.0,520.1 748.8,521.8" fill="#1f4f9d" />
<polygon points="705.0,501.9 711.4,499.3 711.2,501.0 730.9,507.7 730.3,513.5 710.6,506.8 710.4,508.5" fill="#1f4f9d" />
<polygon points="669.5,489.7 675.5,487.1 675.3,488.8 693.7,495.1 693.1,500.7 674.7,494.5 674.6,496.1" fill="#1f4f9d" />
<polygon points="636.2,478.4 641.8,475.8 641.7,477.4 658.9,483.3 658.4,488.8 641.1,482.9 641.0,484.5" fill="#1f4f9d" />
<polygon points="605.0,467.7 610.3,465.1 610.1,466.7 626.3,472.2 625.8,477.5 609.6,472.0 609.4,473.6" fill="#1f4f9d" />
<polygon points="1023.0,738.0 1035.8,736.2 1035.6,739.1 1076.1,757.0 1075.3,765.6 1034.7,747.7 1034.4,750.5" fill="#b02020" />
<polygon points="955.8,708.2 967.5,706.3 967.2,709.0 1003.9,725.3 1003.1,733.5 966.4,717.2 966.1,719.9" fill="#b02020" />
<polygon points="894.7,681.2 905.3,679.1 905.1,681.7 938.5,696.5 937.7,704.3 904.3,689.5 904.0,692.2" fill="#b02020" />
<polygon points="839.0,656.5 848.7,654.3 848.4,656.8 879.0,670.3 878.2,677.8 847.7,664.3 847.4,666.8" fill="#b02020" />
<polygon points="787.8,633.9 796.8,631.7 796.6,634.0 824.6,646.4 823.8,653.6 795.9,641.2 795.6,643.6" fill="#b02020" />
<polygon points="740.8,613.1 749.1,610.8 748.9,613.1 774.6,624.5 774.0,631.4 748.2,620.0 748.0,622.3" fill="#b02020" />
<polygon points="697.5,593.9 705.1,591.6 704.9,593.8 728.7,604.3 728.0,610.9 704.2,600.4 704.0,602.6" fill="#b02020" />
<polygon points="657.3,576.2 664.4,573.8 664.2,575.9 686.2,585.6 685.6,592.0 663.6,582.2 663.3,584.4" fill="#b02020" />
<polygon points="620.0,559.7 626.6,557.2 626.4,559.3 646.9,568.3 646.3,574.5 625.8,565.4 625.6,567.5" fill="#b02020" />
<polygon points="585.3,544.3 591.5,541.9 591.3,543.8 610.3,552.3 609.7,558.2 590.7,549.8 590.5,551.7" fill="#b02020" />
<polygon points="552.9,530.0 558.7,527.5 558.5,529.4 576.3,537.3 575.7,543.0 557.9,535.2 557.7,537.1" fill="#b02020" />
<polygon points="494.2,504.0 499.3,501.6 499.1,503.3 514.7,510.3 514.2,515.6 498.6,508.7 498.4,510.5" fill="#b02020" />
<polygon points="467.5,492.2 472.3,489.8 472.1,491.5 486.8,498.0 486.3,503.2 471.6,496.7 471.4,498.4" fill="#b02020" />
<line x1="524" y1="522.5" x2="543" y2="527" stroke="#b02020" stroke-width="1.6"/>
<polygon points="1013.0,755.8 1027.6,753.8 1027.3,756.8 1073.3,777.7 1072.3,788.0 1026.2,767.1 1025.9,770.1" fill="#1f4f9d" />
<polygon points="933.5,719.8 946.4,717.6 946.2,720.4 987.0,738.9 986.0,748.6 945.2,730.2 944.9,733.0" fill="#1f4f9d" />
<polygon points="862.5,687.7 874.1,685.3 873.9,688.0 910.4,704.5 909.4,713.7 872.9,697.2 872.7,699.9" fill="#1f4f9d" />
<polygon points="798.8,658.8 809.3,656.4 809.0,658.9 841.8,673.7 840.9,682.5 808.1,667.6 807.9,670.2" fill="#1f4f9d" />
<polygon points="741.3,632.8 750.8,630.2 750.5,632.7 780.2,646.1 779.3,654.4 749.7,641.0 749.4,643.4" fill="#1f4f9d" />
<polygon points="689.1,609.2 697.7,606.6 697.5,608.9 724.4,621.0 723.6,629.0 696.7,616.8 696.5,619.1" fill="#1f4f9d" />
<polygon points="641.5,587.7 649.4,585.0 649.2,587.2 673.7,598.3 673.0,605.9 648.4,594.8 648.2,597.0" fill="#1f4f9d" />
<polygon points="598.0,568.0 605.2,565.3 605.0,567.4 627.5,577.6 626.8,584.8 604.3,574.6 604.1,576.8" fill="#1f4f9d" />
<polygon points="558.0,549.9 564.7,547.2 564.5,549.2 585.1,558.5 584.4,565.5 563.8,556.2 563.6,558.2" fill="#1f4f9d" />
<polygon points="487.0,517.8 492.8,515.1 492.6,516.9 510.2,524.9 509.6,531.4 491.9,523.4 491.8,525.3" fill="#1f4f9d" />
<polygon points="522.6,531.5 527.0,529.5 534.0,538.5 531.0,542.0" fill="#1f4f9d" /></svg>
<svg class="L" width="1590" height="911" viewBox="0 0 1590 911"><polygon points="743.0,536.0 762.0,535.0 864.0,573.0 860.0,583.0 800.0,563.5" fill="#262626" /></svg>
<div class="p " style="width:330px;height:72px;transform:matrix3d(0.38926874,0.1319721,0,0.00012633132,-0.13508709,0.18524517,0,-0.00015986638,0,0,1,0,845,567.4,0,1);background:#c6c6c6"><span class="big" style="font-size:90px;line-height:74px;color:#151515">WEIGHT</span></div>
<svg class="L" width="1590" height="911" viewBox="0 0 1590 911"><line x1="620" y1="363" x2="566" y2="468" stroke="#c6c6c6" stroke-width="1.8"/><line x1="475.4" y1="470" x2="534" y2="538" stroke="#d6d6d6" stroke-width="1.6"/>
<line x1="681" y1="514" x2="636" y2="561" stroke="#d2d2d2" stroke-width="2"/><ellipse cx="631" cy="568.5" rx="7" ry="10" fill="none" stroke="#d2d2d2" stroke-width="1.6" transform="rotate(-25 631 568.5)"/></svg>
<svg class="L" width="1590" height="911" viewBox="0 0 1590 911"><polygon points="682.0,507.2 874.5,573.0 874.9,580.5 683.2,514.5" fill="#ffffff" opacity="0.78"/><line x1="683.8" y1="518.5" x2="875" y2="585" stroke="#e8e8e8" stroke-width="1.4" opacity="0.9"/></svg>
<div class="p " style="width:400px;height:105px;transform:matrix3d(0.065198509,-0.10794408,0,-0.00046961212,0.14358971,0.55278734,0,0.0001785114,0,0,1,0,684.8,520.4,0,1);background:#666666"><div class="body" style="font-size:34.5px;line-height:40.5px;padding:4px 0 0 3px;color:#e6ae34">• Faster moving air<br>• Lower pressure</div></div>
<div class="p " style="width:400px;height:88px;transform:matrix3d(0.163256,-0.048475692,0,-0.00038047125,0.26558912,0.65593506,0,0.00034777131,0,0,1,0,679.5,465,0,1);background:#be2327;box-shadow:inset 0 0 0 4px #d4d4d4"><span class="title" style="font-size:47.5px;line-height:88px;color:#f2f2f2;-webkit-text-stroke:0.6px #f2f2f2">Upper Airflow</span></div>
<svg class="L" width="1590" height="911" viewBox="0 0 1590 911"><polygon points="618.6,360.2 746.3,328.4 745.8,337.1 620.9,367.6" fill="#e6e6e6" /><line x1="619.5" y1="363.8" x2="746" y2="332.6" stroke="#bdbdbd" stroke-width="1"/></svg>
<div class="p " style="width:350px;height:205px;transform:matrix3d(0.82485271,0.12439014,0,0.00062750814,0.094490962,0.44407687,0,0.00010801675,0,0,1,0,620.9,367.6,0,1);background:#575757;overflow:hidden"><div class="body" style="font-size:25.5px;line-height:37px;padding:4px 0 0 8px;color:#bf942e">• Upward force<br>• Created by the<br>difference of pressure<br>between upper and<br>lower airstreams</div></div>
<div class="p " style="width:350px;height:100px;transform:matrix3d(0.74053395,0.067113693,0,0.00048911036,0.22962981,0.51517759,0,0.00029199776,0,0,1,0,613.7,319.2,0,1);background:#d0a230;box-shadow:inset 0 0 0 4px #cdcdcd"><span class="title" style="font-size:56.5px;line-height:100px;color:#2e2e2e;-webkit-text-stroke:1.2px #2e2e2e">Lift Force</span></div>
<svg class="L" width="1590" height="911" viewBox="0 0 1590 911"><line x1="275.9" y1="447.1" x2="290.3" y2="437.8" stroke="#37752a" stroke-width="1.7" stroke-linecap="butt"/>
<line x1="254.1" y1="473.0" x2="264.6" y2="458.5" stroke="#37752a" stroke-width="2.0" stroke-linecap="butt"/>
<line x1="245.8" y1="503.0" x2="249.2" y2="487.2" stroke="#37752a" stroke-width="2.0" stroke-linecap="butt"/>
<line x1="245.4" y1="517.8" x2="251.3" y2="533.7" stroke="#37752a" stroke-width="3.8" stroke-linecap="butt"/>
<line x1="266.6" y1="529.1" x2="273.5" y2="542.2" stroke="#37752a" stroke-width="0.8" stroke-linecap="butt"/>
<line x1="290.7" y1="457.2" x2="306.1" y2="447.7" stroke="#37752a" stroke-width="1.8" stroke-linecap="butt"/>
<line x1="270.5" y1="483.6" x2="280.4" y2="469.0" stroke="#37752a" stroke-width="2.2" stroke-linecap="butt"/>
<line x1="263.6" y1="514.5" x2="265.6" y2="498.1" stroke="#37752a" stroke-width="2.2" stroke-linecap="butt"/>
<line x1="283.8" y1="527.7" x2="289.3" y2="542.5" stroke="#37752a" stroke-width="1.8" stroke-linecap="butt"/>
<line x1="318.0" y1="459.1" x2="333.8" y2="453.2" stroke="#37752a" stroke-width="1.7" stroke-linecap="butt"/>
<line x1="293.3" y1="482.9" x2="305.7" y2="469.4" stroke="#37752a" stroke-width="2.2" stroke-linecap="butt"/>
<line x1="283.0" y1="512.9" x2="287.3" y2="496.7" stroke="#37752a" stroke-width="2.2" stroke-linecap="butt"/>
<line x1="302.1" y1="529.7" x2="302.7" y2="512.9" stroke="#37752a" stroke-width="2.4" stroke-linecap="butt"/>
<line x1="328.2" y1="473.0" x2="344.6" y2="465.5" stroke="#37752a" stroke-width="1.7" stroke-linecap="butt"/>
<line x1="307.1" y1="498.1" x2="317.0" y2="483.6" stroke="#37752a" stroke-width="2.2" stroke-linecap="butt"/>
<line x1="321.3" y1="534.2" x2="321.9" y2="516.9" stroke="#37752a" stroke-width="2.4" stroke-linecap="butt"/>
<line x1="340.7" y1="538.6" x2="349.6" y2="552.4" stroke="#37752a" stroke-width="1.0" stroke-linecap="butt"/>
<line x1="350.6" y1="479.3" x2="368.4" y2="473.8" stroke="#37752a" stroke-width="3.6" stroke-linecap="butt"/>
<line x1="324.9" y1="504.0" x2="339.1" y2="488.8" stroke="#37752a" stroke-width="2.2" stroke-linecap="butt"/>
<line x1="340.7" y1="524.8" x2="346.6" y2="508.9" stroke="#37752a" stroke-width="2.2" stroke-linecap="butt"/>
<line x1="359.5" y1="534.2" x2="366.4" y2="517.8" stroke="#37752a" stroke-width="2.4" stroke-linecap="butt"/>
<line x1="357.5" y1="496.1" x2="373.3" y2="489.2" stroke="#37752a" stroke-width="1.7" stroke-linecap="butt"/>
<line x1="376.3" y1="506.6" x2="393.1" y2="500.1" stroke="#37752a" stroke-width="3.8" stroke-linecap="butt"/>
<line x1="324.9" y1="504.6" x2="332.8" y2="506.6" stroke="#37752a" stroke-width="2.2" stroke-linecap="butt"/>
<line x1="341.7" y1="508.0" x2="348.6" y2="511.3" stroke="#37752a" stroke-width="2.2" stroke-linecap="butt"/>
<line x1="354.1" y1="514.5" x2="361.4" y2="517.2" stroke="#37752a" stroke-width="2.2" stroke-linecap="butt"/>
<line x1="327.8" y1="521.2" x2="333.2" y2="523.8" stroke="#37752a" stroke-width="1.9" stroke-linecap="butt"/>
<line x1="293.3" y1="486.2" x2="298.2" y2="489.2" stroke="#37752a" stroke-width="1.0" stroke-linecap="butt"/>
<line x1="303.1" y1="491.6" x2="308.1" y2="495.1" stroke="#37752a" stroke-width="1.4" stroke-linecap="butt"/>
<line x1="314.0" y1="498.7" x2="318.0" y2="500.6" stroke="#37752a" stroke-width="1.4" stroke-linecap="butt"/>
<line x1="319.3" y1="439.8" x2="336.7" y2="438.2" stroke="#37752a" stroke-width="3.1" stroke-linecap="butt"/>
<line x1="340.7" y1="566.7" x2="358.5" y2="559.3" stroke="#37752a" stroke-width="3.1" stroke-linecap="butt"/>
<line x1="356.5" y1="564.3" x2="376.3" y2="558.4" stroke="#37752a" stroke-width="3.1" stroke-linecap="butt"/>
<line x1="312.0" y1="569.2" x2="332.8" y2="567.3" stroke="#37752a" stroke-width="1.0" stroke-linecap="butt"/>
<line x1="382.2" y1="556.4" x2="407.9" y2="562.3" stroke="#37752a" stroke-width="2.9" stroke-linecap="butt"/>
<line x1="388.1" y1="561.3" x2="419.8" y2="550.5" stroke="#37752a" stroke-width="2.9" stroke-linecap="butt"/>
<line x1="407.9" y1="556.4" x2="434.6" y2="556.4" stroke="#37752a" stroke-width="2.9" stroke-linecap="butt"/>
<line x1="403.9" y1="487.2" x2="414.8" y2="510.9" stroke="#37752a" stroke-width="2.2" stroke-linecap="butt"/>
<line x1="404.9" y1="512.9" x2="407.9" y2="522.8" stroke="#37752a" stroke-width="2.2" stroke-linecap="butt"/>
<line x1="408.9" y1="511.9" x2="410.9" y2="524.8" stroke="#37752a" stroke-width="2.2" stroke-linecap="butt"/>
<line x1="417.8" y1="521.8" x2="418.8" y2="530.7" stroke="#37752a" stroke-width="2.2" stroke-linecap="butt"/>
<line x1="420.7" y1="527.7" x2="426.7" y2="538.6" stroke="#37752a" stroke-width="2.2" stroke-linecap="butt"/>
<line x1="378.2" y1="527.7" x2="390.1" y2="526.7" stroke="#37752a" stroke-width="2.6" stroke-linecap="butt"/>
<line x1="384.2" y1="524.8" x2="392.1" y2="518.8" stroke="#37752a" stroke-width="1.9" stroke-linecap="butt"/>
<line x1="388.1" y1="532.7" x2="396.0" y2="522.8" stroke="#37752a" stroke-width="1.9" stroke-linecap="butt"/>
<line x1="402.0" y1="527.7" x2="408.9" y2="530.7" stroke="#37752a" stroke-width="2.4" stroke-linecap="butt"/>
<line x1="365.5" y1="554.6" x2="371.9" y2="548.2" stroke="#37752a" stroke-width="2.2" stroke-linecap="butt"/>
<line x1="411.5" y1="552.5" x2="418.7" y2="540.1" stroke="#37752a" stroke-width="1.7" stroke-linecap="butt"/>
<line x1="392.5" y1="541.0" x2="401.8" y2="535.6" stroke="#37752a" stroke-width="1.7" stroke-linecap="butt"/>
<line x1="379.6" y1="555.5" x2="385.2" y2="549.3" stroke="#37752a" stroke-width="2.2" stroke-linecap="butt"/>
<line x1="415.7" y1="549.2" x2="424.6" y2="539.3" stroke="#37752a" stroke-width="2.6" stroke-linecap="butt"/>
<line x1="409.0" y1="513.8" x2="421.9" y2="518.5" stroke="#37752a" stroke-width="1.7" stroke-linecap="butt"/>
<line x1="380.4" y1="544.8" x2="391.3" y2="535.7" stroke="#37752a" stroke-width="2.6" stroke-linecap="butt"/>
<line x1="379.4" y1="551.6" x2="388.3" y2="549.2" stroke="#37752a" stroke-width="2.6" stroke-linecap="butt"/>
<line x1="391.7" y1="562.4" x2="395.5" y2="555.7" stroke="#37752a" stroke-width="2.6" stroke-linecap="butt"/>
<line x1="389.9" y1="555.4" x2="399.6" y2="552.8" stroke="#37752a" stroke-width="2.2" stroke-linecap="butt"/>
<line x1="402.4" y1="564.8" x2="409.2" y2="558.0" stroke="#37752a" stroke-width="2.2" stroke-linecap="butt"/>
<line x1="418.7" y1="566.6" x2="427.4" y2="556.2" stroke="#37752a" stroke-width="1.7" stroke-linecap="butt"/>
<line x1="398.9" y1="560.3" x2="405.6" y2="552.4" stroke="#37752a" stroke-width="1.7" stroke-linecap="butt"/>
<line x1="400.3" y1="535.2" x2="408.7" y2="528.2" stroke="#37752a" stroke-width="2.6" stroke-linecap="butt"/>
<line x1="418.3" y1="565.6" x2="424.7" y2="556.4" stroke="#37752a" stroke-width="1.7" stroke-linecap="butt"/>
<line x1="418.6" y1="531.9" x2="424.9" y2="524.5" stroke="#37752a" stroke-width="2.2" stroke-linecap="butt"/>
<line x1="385.1" y1="540.8" x2="391.4" y2="531.9" stroke="#37752a" stroke-width="1.7" stroke-linecap="butt"/>
<line x1="375.8" y1="545.8" x2="383.7" y2="537.9" stroke="#37752a" stroke-width="2.6" stroke-linecap="butt"/>
<line x1="412.5" y1="554.6" x2="422.6" y2="548.7" stroke="#37752a" stroke-width="2.6" stroke-linecap="butt"/>
<line x1="468" y1="573" x2="615" y2="649" stroke="#4b8a2c" stroke-width="2.6" stroke-dasharray="14.5 8"/></svg>
<svg class="L" width="1590" height="911" viewBox="0 0 1590 911"><polygon points="336.7,443.0 474.4,463.2 476.0,472.0 339.0,451.0" fill="#e4e4e4" /><line x1="337.8" y1="447" x2="475.2" y2="467.6" stroke="#bdbdbd" stroke-width="1"/></svg>
<div class="p " style="width:350px;height:105px;transform:matrix3d(0.28007942,-0.050413442,0,-0.00023392678,0.077792741,0.41034106,0,5.9854737e-05,0,0,1,0,339,451,0,1);background:#666"><div class="body" style="font-size:30.5px;line-height:39.6px;padding:6px 0 0 3px;color:#dba834">• Slower moving air<br>• Higher pressure</div></div>
<div class="p " style="width:350px;height:90px;transform:matrix3d(0.43794556,0.089639489,0,6.4517948e-05,0.20226706,0.5773586,0,0.00039283355,0,0,1,0,330.4,406.7,0,1);background:#2b5db1;box-shadow:inset 0 0 0 4px #d9d9d9"><span class="title" style="font-size:42px;line-height:90px;color:#f0f0f0;-webkit-text-stroke:0.7px #f0f0f0">Lower Airflow</span></div>
<svg class="L" width="1590" height="911" viewBox="0 0 1590 911"><polyline points="526,512.6 491,516 455.5,550.4" fill="none" stroke="#222" stroke-width="1.1"/><polyline points="495,518 459,552" fill="none" stroke="#222" stroke-width="1.1"/><rect x="447.5" y="546" width="11" height="11" fill="#f4f4f4" stroke="#222" stroke-width="1.2" transform="rotate(20 453 551.5)"/><circle cx="453" cy="551.5" r="1.6" fill="#222"/>
<ellipse cx="535" cy="463.5" rx="56" ry="51" fill="#50832f" stroke="#2c2c2c" stroke-width="2.2"/>
<text x="537" y="471.5" text-anchor="middle" font-family="Liberation Mono, monospace" font-weight="bold" font-size="20.5" letter-spacing="2.2" fill="#dedede" transform="rotate(-3 536 464.5)">WINGLET</text></svg>
<svg class="L" width="1590" height="911" viewBox="0 0 1590 911"><polygon points="451.0,342.0 499.0,358.0 499.0,380.0 452.5,385.0" fill="#f2f2f2" opacity="0.3"/>
<line x1="451.5" y1="343" x2="453" y2="370" stroke="#c8c8c8" stroke-width="0.7"/>
<polygon points="500.3,368.7 513.4,341.7 516.4,357.2 551.7,365.3 554.5,390.6 520.0,389.5 522.2,405.6" fill="#e0ad2e" stroke="#111" stroke-width="3.5"/>
<defs><linearGradient id="stab" x1="0" y1="0" x2="0" y2="1"><stop offset="0" stop-color="#fafafa"/><stop offset="0.55" stop-color="#f0f0f0"/><stop offset="1" stop-color="#c4c4c4"/></linearGradient></defs><path d="M447,397.3 Q500,393.5 560,392 Q585,391.5 589,397 Q588,403.5 560,404 Q500,402.5 447,398.5 Z" fill="url(#stab)"/></svg>
<div class="p " style="width:120px;height:50px;transform:matrix3d(0.88032544,0.52361933,0,0.0011341223,0.38804734,0.62059172,0,0.00071005917,0,0,1,0,459,349,0,1);background:#dcdcdc"><span class="big" style="font-size:49px;line-height:50px;color:#151515;letter-spacing:-1.5px;-webkit-text-stroke:1px #151515">DRAG</span></div>
<svg class="L" width="1590" height="911" viewBox="0 0 1590 911"><polygon points="1209.5,586.0 1330.0,618.0 1335.5,593.5 1384.0,663.0 1305.5,693.5 1312.2,668.5 1199.6,632.3" fill="#cfa22a" stroke="#1e1e1e" stroke-width="7" stroke-linejoin="round"/></svg>
<div class="p " style="width:336px;height:90px;transform:matrix3d(-0.073243087,-0.13784741,0,-0.00045517824,-0.62299182,0.082780183,0,-0.00038480038,0,0,1,0,1396,649,0,1);background:#c3c3c3;outline:1.5px dashed #858585;outline-offset:-1px"><span class="big" style="font-size:92px;line-height:92px;color:#151515;-webkit-text-stroke:2px #151515">THRUST</span></div>
</div></body></html>
